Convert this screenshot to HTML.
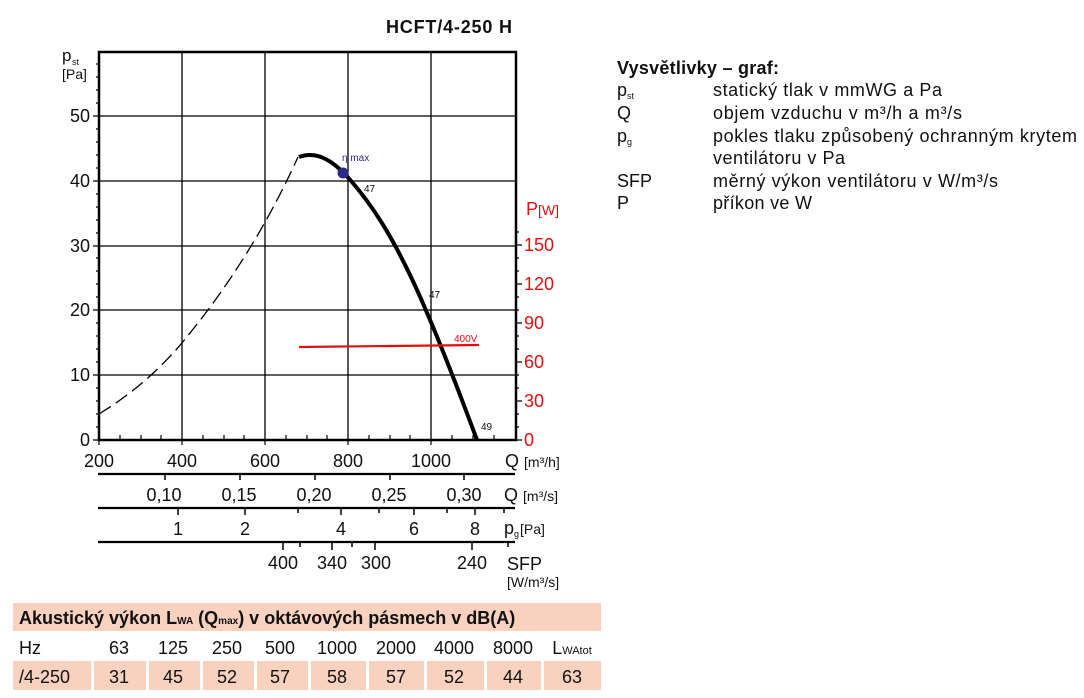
<!DOCTYPE html>
<html><head><meta charset="utf-8"><style>
html,body{margin:0;padding:0;background:#fff;width:1084px;height:698px;overflow:hidden}
svg{display:block}
text{font-family:"Liberation Sans",sans-serif;fill:#111}
</style></head><body>
<svg width="1084" height="698" viewBox="0 0 1084 698" xmlns="http://www.w3.org/2000/svg">
<text x="386" y="33" font-size="18" font-weight="bold" textLength="126">HCFT/4-250 H</text>
<g stroke="#000" stroke-width="1.3">
<line x1="99" y1="116" x2="516" y2="116"/><line x1="99" y1="181" x2="516" y2="181"/>
<line x1="99" y1="246" x2="516" y2="246"/><line x1="99" y1="310" x2="516" y2="310"/>
<line x1="99" y1="375" x2="516" y2="375"/>
<line x1="182" y1="52" x2="182" y2="440"/><line x1="265" y1="52" x2="265" y2="440"/>
<line x1="348" y1="52" x2="348" y2="440"/><line x1="431" y1="52" x2="431" y2="440"/>
</g>
<rect x="99" y="52" width="417" height="388" fill="none" stroke="#000" stroke-width="2.5"/>
<g stroke="#000" stroke-width="1.2">
<path d="M99 427h-3M99 414h-3M99 401h-3M99 388h-3M99 362h-3M99 349h-3M99 336h-3M99 323h-3M99 297h-3M99 284h-3M99 271h-3M99 258h-3M99 233h-3M99 220h-3M99 207h-3M99 194h-3M99 168h-3M99 155h-3M99 142h-3M99 129h-3M99 103h-3M99 90h-3M99 77h-3M99 64h-3"/>
<path d="M99 440h-6M99 375h-6M99 310h-6M99 246h-6M99 181h-6M99 116h-6"/>
<path d="M120 440v-5M141 440v-5M161 440v-5M203 440v-5M224 440v-5M244 440v-5M286 440v-5M307 440v-5M327 440v-5M369 440v-5M390 440v-5M410 440v-5M452 440v-5M473 440v-5M494 440v-5"/>
<path d="M99 440v5M182 440v5M265 440v5M348 440v5M431 440v5"/>
<path d="M516 440h6M516 401h6M516 362h6M516 323h6M516 284h6M516 245h6"/>
<path d="M516 427h3M516 414h3M516 388h3M516 375h3M516 349h3M516 336h3M516 310h3M516 297h3M516 271h3M516 258h3M516 232h3"/>
</g>
<g font-size="18" text-anchor="end">
<text x="90" y="446">0</text><text x="90" y="381">10</text><text x="90" y="316">20</text>
<text x="90" y="252">30</text><text x="90" y="187">40</text><text x="90" y="122">50</text>
</g>
<text x="62" y="61" font-size="17">p</text><text x="72" y="65" font-size="9">st</text>
<text x="62" y="79" font-size="14">[Pa]</text>
<g font-size="18">
<text x="524" y="446" style="fill:#e01010">0</text><text x="524" y="407" style="fill:#e01010">30</text>
<text x="524" y="368" style="fill:#e01010">60</text><text x="524" y="329" style="fill:#e01010">90</text>
<text x="524" y="290" style="fill:#e01010">120</text><text x="524" y="251" style="fill:#e01010">150</text>
<text x="526" y="215" style="fill:#e01010">P</text><text x="538" y="215" font-size="14" style="fill:#e01010">[W]</text>
</g>
<path d="M99 414 C135 392 165 365 190 333 C225 290 265 230 298 157" fill="none" stroke="#000" stroke-width="1.3" stroke-dasharray="14,6"/>
<path d="M299 157 C318 150 335 162 352 182 C395 232 425 300 477 440" fill="none" stroke="#000" stroke-width="4"/>
<line x1="299" y1="347" x2="479" y2="345" stroke="#e01010" stroke-width="2.2"/>
<text x="454" y="342" font-size="10" style="fill:#e01010">400V</text>
<circle cx="343" cy="173" r="5.5" fill="#2a2a8a"/>
<text x="342" y="161" font-size="10" style="fill:#2a2a8a">η max</text>
<text x="364" y="192" font-size="10">47</text>
<text x="429" y="298" font-size="10">47</text>
<text x="481" y="430" font-size="10">49</text>
<g font-size="18" text-anchor="middle">
<text x="99" y="467">200</text><text x="182" y="467">400</text><text x="265" y="467">600</text>
<text x="348" y="467">800</text><text x="431" y="467">1000</text>
</g>
<text x="505" y="467" font-size="18">Q <tspan font-size="14">[m³/h]</tspan></text>
<g stroke="#000" stroke-width="2.2">
<line x1="98" y1="474" x2="515" y2="474"/><line x1="98" y1="508" x2="515" y2="508"/><line x1="98" y1="542" x2="515" y2="542"/>
</g>
<g stroke="#000" stroke-width="1.5">
<path d="M165 474v6M240 474v6M315 474v6M390 474v6M464 474v6"/>
<path d="M178 508v7M245 508v7M298 508v5M341 508v7M379 508v5M414 508v7M447 508v5M475 508v7M504 508v5"/>
<path d="M283 542v8M300 542v5M332 542v8M352 542v5M375 542v8M472 542v8M508 542v5"/>
</g>
<g font-size="18" text-anchor="middle">
<text x="164" y="501">0,10</text><text x="239" y="501">0,15</text><text x="314" y="501">0,20</text>
<text x="389" y="501">0,25</text><text x="464" y="501">0,30</text>
<text x="178" y="535">1</text><text x="245" y="535">2</text><text x="341" y="535">4</text>
<text x="414" y="535">6</text><text x="475" y="535">8</text>
<text x="283" y="569">400</text><text x="332" y="569">340</text><text x="376" y="569">300</text><text x="472" y="569">240</text>
</g>
<text x="504" y="501" font-size="18">Q <tspan font-size="14">[m³/s]</tspan></text>
<text x="504" y="534" font-size="18">p</text><text x="514" y="537" font-size="9">g</text><text x="520" y="534" font-size="14">[Pa]</text>
<text x="507" y="570" font-size="18">SFP</text>
<text x="507" y="587" font-size="14">[W/m³/s]</text>
<text x="617" y="74" font-size="18" font-weight="bold" textLength="162">Vysvětlivky – graf:</text>
<g font-size="18">
<text x="617" y="96">p</text><text x="627" y="99" font-size="9">st</text>
<text x="713" y="96" textLength="229">statický tlak v mmWG a Pa</text>
<text x="617" y="119">Q</text><text x="713" y="119" textLength="249">objem vzduchu v m³/h a m³/s</text>
<text x="617" y="142">p</text><text x="627" y="145" font-size="9">g</text>
<text x="713" y="142" textLength="364">pokles tlaku způsobený ochranným krytem</text>
<text x="713" y="164" textLength="132">ventilátoru v Pa</text>
<text x="617" y="187">SFP</text><text x="713" y="187" textLength="285">měrný výkon ventilátoru v W/m³/s</text>
<text x="617" y="209">P</text><text x="713" y="209" textLength="99">příkon ve W</text>
</g>
<rect x="13" y="603" width="588" height="28" fill="#f8d2bf"/>
<text x="19" y="624" font-size="18" font-weight="bold">Akustický výkon L<tspan font-size="10">WA</tspan> (Q<tspan font-size="10">max</tspan>) v oktávových pásmech v dB(A)</text>
<g font-size="18" text-anchor="middle">
<text x="19" y="654" text-anchor="start">Hz</text>
<text x="119" y="654">63</text><text x="173" y="654">125</text><text x="227" y="654">250</text>
<text x="280" y="654">500</text><text x="337" y="654">1000</text><text x="396" y="654">2000</text>
<text x="454" y="654">4000</text><text x="513" y="654">8000</text>
<text x="572" y="654">L<tspan font-size="11">WAtot</tspan></text>
</g>
<g fill="#f8d2bf">
<rect x="13" y="661" width="78" height="29"/><rect x="94" y="661" width="52" height="29"/>
<rect x="149" y="661" width="51" height="29"/><rect x="203" y="661" width="51" height="29"/>
<rect x="257" y="661" width="51" height="29"/><rect x="311" y="661" width="55" height="29"/>
<rect x="369" y="661" width="55" height="29"/><rect x="427" y="661" width="57" height="29"/>
<rect x="487" y="661" width="54" height="29"/><rect x="544" y="661" width="57" height="29"/>
</g>
<g font-size="18" text-anchor="middle">
<text x="19" y="683" text-anchor="start">/4-250</text>
<text x="119" y="683">31</text><text x="173" y="683">45</text><text x="227" y="683">52</text>
<text x="280" y="683">57</text><text x="337" y="683">58</text><text x="396" y="683">57</text>
<text x="454" y="683">52</text><text x="513" y="683">44</text><text x="572" y="683">63</text>
</g>
</svg>
</body></html>
